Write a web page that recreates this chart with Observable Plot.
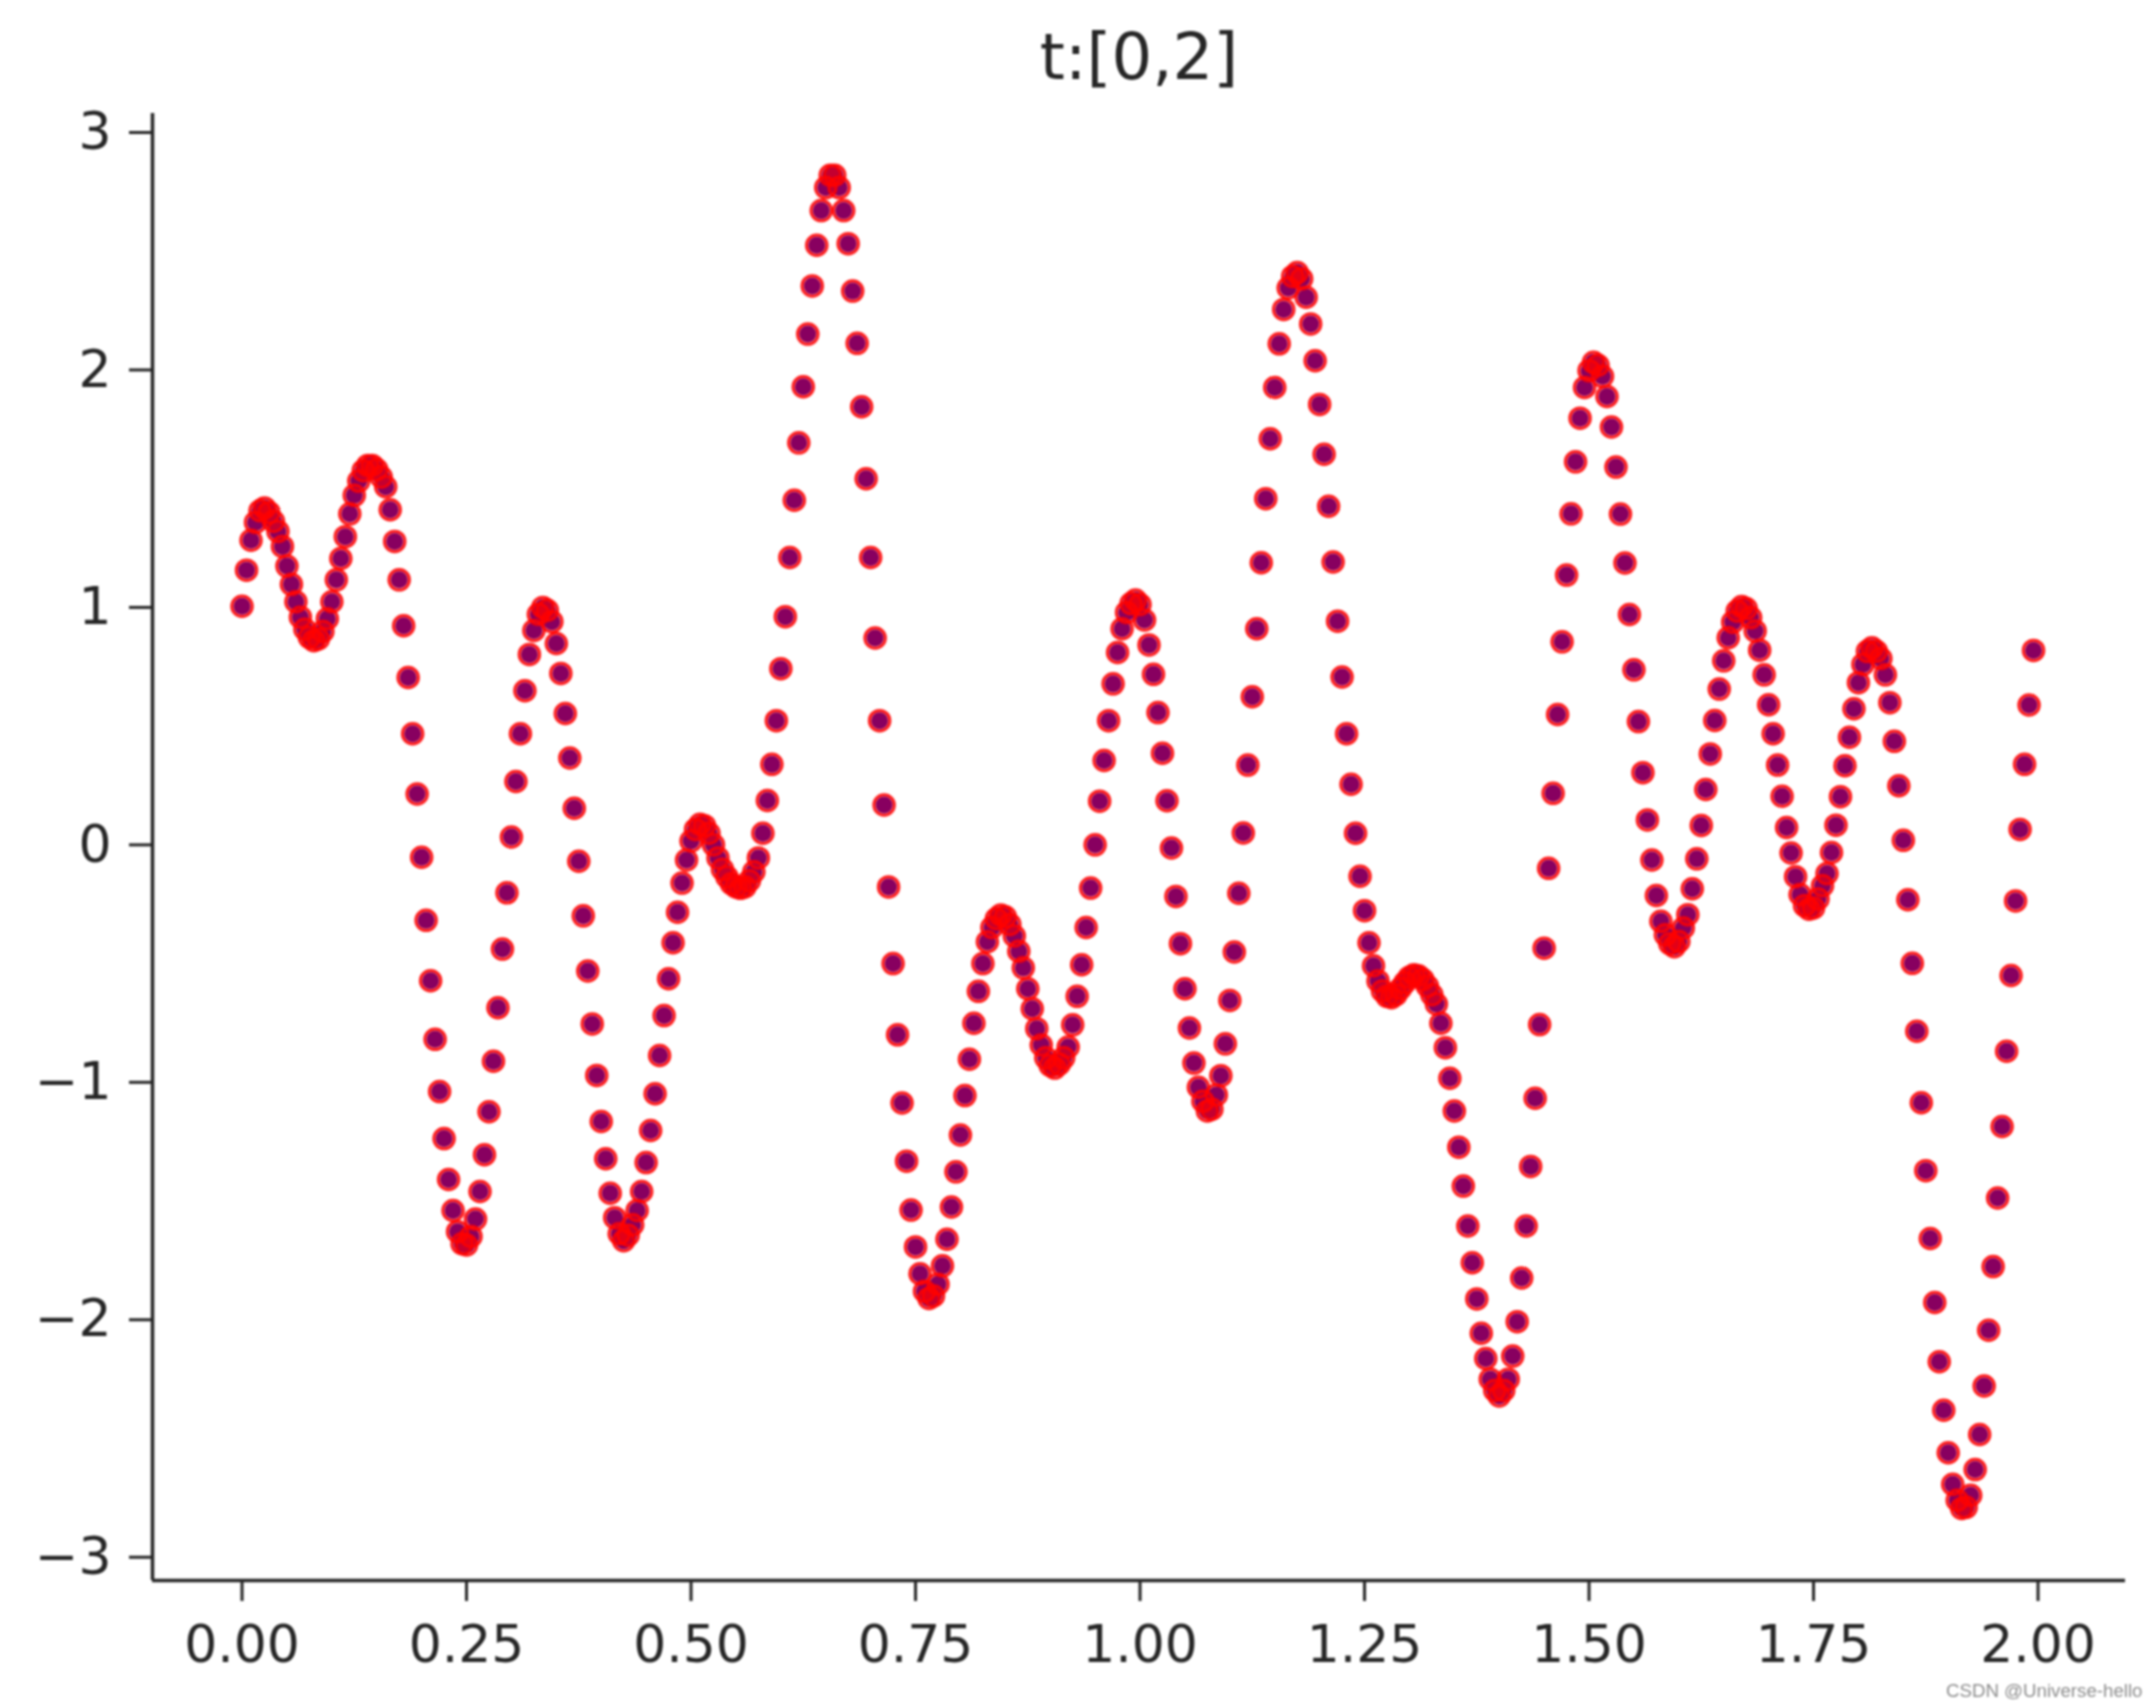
<!DOCTYPE html>
<html>
<head>
<meta charset="utf-8">
<script src="https://cdn.jsdelivr.net/npm/d3@7"></script>
<script src="https://cdn.jsdelivr.net/npm/@observablehq/plot@0.6"></script>
<style>
html,body{margin:0;padding:0;background:#fff}
svg{display:block;filter:blur(0.8px)}
</style>
</head>
<body>
<div id="chart"></div>
<script>
const titleText = "t:[0,2]";
const watermark = "CSDN @Universe-hello";
const xTicks = [0, 0.25, 0.5, 0.75, 1, 1.25, 1.5, 1.75, 2];
const yTicks = [-3, -2, -1, 0, 1, 2, 3];
const timeStep = 0.005;
const signal = [
1.005,1.157,1.283,1.358,1.407,1.419,1.40,1.363,1.32,1.257,
1.174,1.097,1.024,.959,.908,.874,.860,.867,.899,.952,
1.024,1.116,1.206,1.298,1.394,1.472,1.532,1.576,1.598,1.598,
1.581,1.549,1.508,1.411,1.278,1.116,.923,.705,.468,.214,
-.052,-.318,-.572,-.819,-1.039,-1.237,-1.409,-1.54,-1.629,-1.68,
-1.685,-1.649,-1.576,-1.46,-1.305,-1.124,-.911,-.686,-.439,-.202,
.033,.267,.468,.649,.802,.903,.971,1.0,.988,.94,
.848,.722,.553,.366,.154,-.069,-.299,-.531,-.754,-.971,
-1.165,-1.322,-1.467,-1.57,-1.638,-1.667,-1.644,-1.6,-1.54,-1.46,
-1.338,-1.203,-1.048,-.887,-.719,-.564,-.412,-.284,-.161,-.064,
.016,.065,.087,.081,.049,0,-.055,-.103,-.135,-.164,
-.177,-.183,-.177,-.151,-.113,-.055,.049,.187,.339,.523,
.742,.961,1.21,1.451,1.693,1.929,2.151,2.354,2.525,2.671,
2.768,2.82,2.82,2.768,2.671,2.532,2.332,2.112,1.845,1.542,
1.21,.871,.523,.168,-.177,-.5,-.8,-1.087,-1.332,-1.538,
-1.693,-1.806,-1.88,-1.91,-1.9,-1.85,-1.773,-1.661,-1.525,-1.377,
-1.222,-1.056,-.903,-.751,-.617,-.5,-.408,-.348,-.311,-.295,
-.303,-.335,-.384,-.448,-.518,-.606,-.69,-.774,-.843,-.897,
-.929,-.94,-.924,-.897,-.851,-.758,-.638,-.505,-.348,-.182,
0,.184,.355,.523,.678,.81,.91,.979,1.016,1.031,
1.012,.947,.842,.718,.557,.386,.186,-.013,-.217,-.416,
-.606,-.771,-.919,-1.021,-1.08,-1.121,-1.113,-1.053,-.972,-.838,
-.655,-.451,-.204,.05,.336,.624,.91,1.188,1.458,1.71,
1.926,2.11,2.255,2.345,2.394,2.41,2.384,2.306,2.194,2.039,
1.855,1.645,1.426,1.191,.942,.707,.468,.255,.049,-.132,
-.277,-.412,-.509,-.573,-.615,-.638,-.644,-.631,-.605,-.58,
-.557,-.547,-.551,-.567,-.595,-.631,-.67,-.751,-.854,-.983,
-1.121,-1.273,-1.437,-1.605,-1.76,-1.912,-2.057,-2.163,-2.25,-2.298,
-2.321,-2.298,-2.25,-2.153,-2.008,-1.824,-1.605,-1.354,-1.067,-.757,
-.435,-.099,.217,.549,.855,1.136,1.394,1.613,1.797,1.926,
1.997,2.032,2.02,1.973,1.888,1.76,1.591,1.393,1.187,.97,
.737,.519,.304,.105,-.064,-.213,-.322,-.379,-.416,-.429,
-.407,-.35,-.294,-.185,-.059,.082,.233,.383,.524,.656,
.775,.872,.938,.985,1.004,.995,.957,.901,.82,.716,
.59,.468,.336,.205,.073,-.034,-.134,-.209,-.256,-.271,
-.266,-.228,-.172,-.121,-.032,.083,.203,.333,.453,.573,
.683,.76,.815,.83,.815,.785,.716,.599,.436,.249,
.019,-.231,-.499,-.785,-1.086,-1.372,-1.658,-1.927,-2.177,-2.381,
-2.56,-2.693,-2.76,-2.795,-2.79,-2.739,-2.631,-2.483,-2.279,-2.044,
-1.776,-1.487,-1.186,-.869,-.55,-.236,.065,.339,.589,.819
];
const points = signal.map((v, i) => ({t: i * timeStep, v}));

const ink = "#262626";
const chart = Plot.plot({
  width: 2156,
  height: 1708,
  marginTop: 113,
  marginBottom: 128,
  marginLeft: 152,
  marginRight: 31,
  style: {background: "#fff", fontFamily: "'DejaVu Sans'", overflow: "visible"},
  x: {domain: [-0.0997, 2.0974]},
  y: {domain: [-3.098, 3.08]},
  marks: [
    Plot.dot(points, {x: "t", y: "v", r: 8.5, fill: "#1000c0", stroke: "none"}),
    Plot.dot(points, {x: "t", y: "v", r: 10.5, fill: "#ff0000", fillOpacity: 0.5, stroke: "#ff0000", strokeOpacity: 0.9, strokeWidth: 2.5}),
    Plot.ruleX([-0.0997], {stroke: ink, strokeWidth: 3.5}),
    Plot.ruleY([-3.098], {stroke: ink, strokeWidth: 3.5}),
    Plot.axisX({ticks: xTicks, tickSize: 21, tickPadding: 24, tickFormat: d3.format(".2f"), fontSize: 52, stroke: ink, strokeWidth: 3, fill: ink, label: null}),
    Plot.axisY({ticks: yTicks, tickSize: 23, tickPadding: 18, tickFormat: d3.format("d"), fontSize: 52, stroke: ink, strokeWidth: 3, fill: ink, label: null}),
    Plot.text([titleText], {frameAnchor: "top", dy: -55, fontSize: 64, fill: ink, lineAnchor: "middle", textAnchor: "middle"}),
    Plot.text([watermark], {frameAnchor: "bottom-right", dx: 17, dy: 111, fontSize: 18.7, fill: "#8c8c8c", fontFamily: "'Liberation Sans'", textAnchor: "end", lineAnchor: "middle"})
  ]
});
document.getElementById("chart").append(chart);
</script>
</body>
</html>
